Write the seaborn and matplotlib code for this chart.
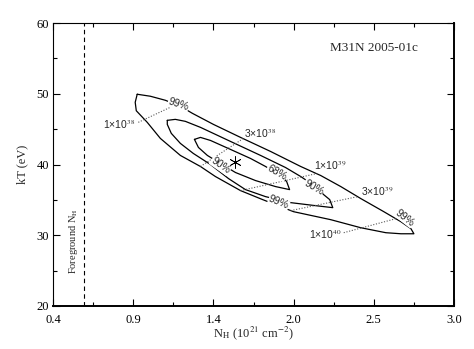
import numpy as np
import pandas as pd
import matplotlib
matplotlib.use("Agg")
import matplotlib.pyplot as plt
import seaborn as sns

# ---------------- data ----------------
# 99% confidence contour (N_H in 1e21 cm^-2, kT in eV)
c99_nh = [0.946, 1.031, 1.128, 1.226, 1.304, 1.440, 1.616, 1.811, 2.006, 2.136, 2.266,
          2.396, 2.545, 2.656, 2.721, 2.740, 2.656, 2.558, 2.396, 2.201, 1.960, 1.759,
          1.616, 1.453, 1.356, 1.226, 1.096, 1.011, 0.940, 0.933, 0.946]
c99_kt = [49.93, 49.65, 49.08, 48.23, 47.23, 45.67, 43.83, 41.84, 39.72, 38.44, 36.88,
          35.18, 33.33, 31.91, 30.92, 30.21, 30.21, 30.36, 31.06, 32.20, 33.33, 35.04,
          36.31, 38.30, 39.72, 41.28, 43.69, 45.96, 47.60, 48.79, 49.93]
# 90% confidence contour
c90_nh = [1.141, 1.193, 1.258, 1.356, 1.551, 1.746, 1.908, 2.006, 2.103, 2.155, 2.194,
          2.214, 2.103, 1.941, 1.778, 1.648, 1.538, 1.421, 1.310, 1.226, 1.167, 1.141, 1.141]
c90_kt = [46.24, 46.38, 46.10, 45.25, 43.26, 41.28, 39.57, 38.30, 36.88, 35.74, 35.04,
          33.90, 34.18, 34.61, 35.46, 36.45, 38.01, 40.00, 41.56, 42.98, 44.40, 45.67, 46.24]
# 68% confidence contour
c68_nh = [1.317, 1.356, 1.421, 1.551, 1.681, 1.778, 1.876, 1.915, 1.934, 1.843, 1.713,
          1.583, 1.486, 1.401, 1.343, 1.317]
c68_kt = [43.55, 43.83, 43.40, 42.13, 40.85, 39.72, 38.44, 37.59, 36.45, 36.88, 37.73,
          38.87, 40.14, 41.28, 42.41, 43.55]

# best fit
best_nh = [1.577]
best_kt = [40.3]

# luminosity iso-lines (erg/s): segment end points
lum_labels = ["1×10$^{38}$", "3×10$^{38}$", "1×10$^{39}$", "3×10$^{39}$", "1×10$^{40}$"]
lum_nh_start = [0.953, 1.356, 1.616, 1.941, 2.285]
lum_kt_start = [45.96, 39.72, 36.31, 33.48, 30.36]
lum_nh_end = [1.161, 1.635, 2.110, 2.376, 2.623]
lum_kt_end = [48.09, 43.69, 38.72, 35.46, 32.34]

# confidence contour labels
conf_labels = ["99%", "99%", "99%", "90%", "90%", "68%"]
conf_nh = [1.213, 1.863, 2.682, 1.486, 2.090, 1.850]
conf_kt = [48.51, 34.61, 32.48, 39.86, 36.74, 38.87]

foreground_nh = 0.6

x_ticks = [0.4, 0.92, 1.44, 1.96, 2.48, 3.0]
x_tick_labels = ["0.4", "0.9", "1.4", "2.0", "2.5", "3.0"]
y_ticks = [20, 30, 40, 50, 60]
y_tick_labels = ["20", "30", "40", "50", "60"]

# ---------------- figure ----------------
sns.set_theme(style="ticks")
plt.rcParams["font.family"] = ["Liberation Serif", "DejaVu Serif"]
plt.rcParams["mathtext.fontset"] = "stix"

fig = plt.figure(figsize=(4.74, 3.49), dpi=100)
ax = fig.add_axes([53 / 474, 1 - 306 / 349, 401 / 474, 283 / 349])

for nh, kt in [(c99_nh, c99_kt), (c90_nh, c90_kt), (c68_nh, c68_kt)]:
    df = pd.DataFrame({"nh": nh, "kt": kt})
    sns.lineplot(data=df, x="nh", y="kt", sort=False, estimator=None,
                 color="black", linewidth=0.9, ax=ax)

for i in range(len(lum_labels)):
    df = pd.DataFrame({"nh": [lum_nh_start[i], lum_nh_end[i]],
                       "kt": [lum_kt_start[i], lum_kt_end[i]]})
    sns.lineplot(data=df, x="nh", y="kt", sort=False, estimator=None,
                 color="0.35", linewidth=0.8, linestyle=(0, (1, 1.5)), ax=ax)

sns.scatterplot(x=best_nh, y=best_kt, marker=(6, 2, 0), s=70,
                color="black", edgecolor="black", linewidth=0.55, ax=ax)

ax.axvline(foreground_nh, color="black", linestyle=(0, (4, 3)), linewidth=0.8)

lab_font = ["Liberation Sans", "DejaVu Sans"]
# luminosity labels
lum_pos = [(0.933, 45.67, "right"), (1.640, 43.5, "left"), (2.095, 39.0, "left"),
           (2.395, 35.2, "left"), (2.268, 30.1, "right")]
for lab, (x, y, ha) in zip(lum_labels, lum_pos):
    ax.text(x, y, lab, ha=ha, va="bottom" if ha == "left" else "center",
            fontsize=7.5, family=lab_font)

rots = [-18, -22, -38, -35, -30, -30]
for lab, x, y, r in zip(conf_labels, conf_nh, conf_kt, rots):
    ax.text(x, y, lab, ha="center", va="center", fontsize=7.5, rotation=r,
            family=lab_font,
            bbox=dict(facecolor="white", edgecolor="none", pad=0.2))

ax.text(0.53, 29.1, "Foreground N$_{\\rm H}$", rotation=90, ha="center",
        va="center", fontsize=7.5)
ax.text(0.80, 0.912, "M31N 2005-01c", transform=ax.transAxes, ha="center",
        va="center", fontsize=9.5)

ax.set_xlim(0.4, 3.0)
ax.set_ylim(20, 60)
ax.set_xticks(x_ticks)
ax.set_xticklabels(x_tick_labels)
ax.set_yticks(y_ticks)
ax.set_yticklabels(y_tick_labels)
ax.set_xticks([(a + b) / 2 for a, b in zip(x_ticks[:-1], x_ticks[1:])], minor=True)
ax.set_yticks([25, 35, 45, 55], minor=True)
ax.tick_params(which="both", direction="in", top=True, right=True,
               labelsize=9, width=0.8, colors="black")
ax.tick_params(which="major", length=5)
ax.tick_params(which="minor", length=3)
ax.tick_params(axis="x", pad=6)
ax.tick_params(axis="y", pad=3)

ax.set_xlabel("N$_{\\rm H}$ (10$^{21}$ cm$^{-2}$)", fontsize=9, labelpad=-1)
ax.set_ylabel("kT (eV)", fontsize=9, labelpad=6)

for side in ["left", "top"]:
    ax.spines[side].set_linewidth(0.8)
for side in ["bottom", "right"]:
    ax.spines[side].set_linewidth(1.4)
for s in ax.spines.values():
    s.set_color("black")

fig.savefig("out.png", dpi=100, facecolor="white")
